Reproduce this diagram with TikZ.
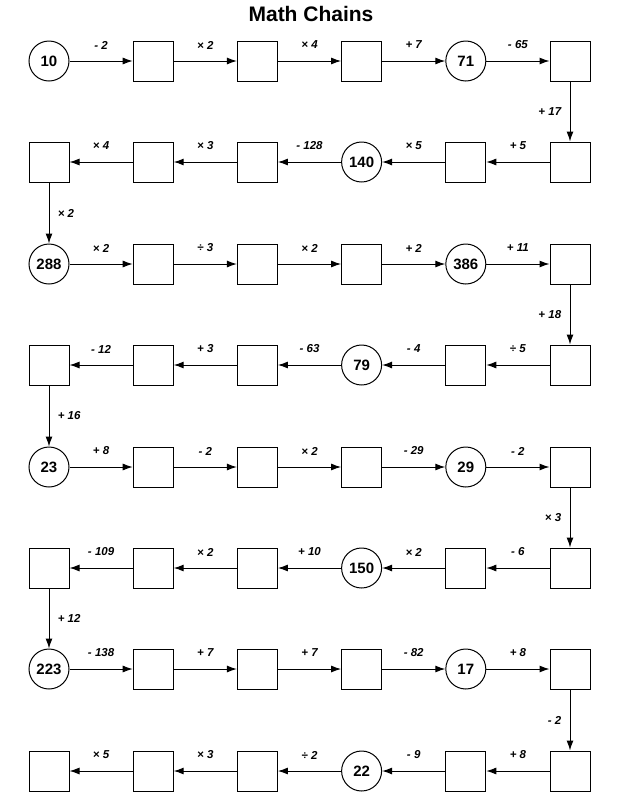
\documentclass[tikz,border=0pt]{standalone}
\usepackage{fontspec}
\setmainfont{Liberation Sans}
\usetikzlibrary{arrows.meta}

\tikzset{every picture/.style={line width=1pt},
  cell/.style={draw,minimum size=40pt,inner sep=0pt},
  ring/.style={draw,circle,minimum size=40pt,inner sep=0pt,font=\fontsize{15}{17}\selectfont\bfseries},
  link/.style={-{Latex[length=10pt,width=7pt]}},
  op/.style={font=\fontsize{11.5}{13}\selectfont\bfseries\itshape}}

\begin{document}
\begin{tikzpicture}[x=1pt,y=-1pt]
\useasboundingbox (0,0) rectangle (622,812);
\def\bx{b}

% title
\node[font=\fontsize{21}{25}\selectfont\bfseries] (title) at (311,14) {Math Chains};

% rows of cells
\foreach \r/\y/\items/\ops in {
  1/61/{10,b,b,b,71,b}/{- 2,× 2,× 4,+ 7,- 65},
  2/162/{b,b,b,140,b,b}/{× 4,× 3,- 128,× 5,+ 5},
  3/264/{288,b,b,b,386,b}/{× 2,÷ 3,× 2,+ 2,+ 11},
  4/365/{b,b,b,79,b,b}/{- 12,+ 3,- 63,- 4,÷ 5},
  5/467/{23,b,b,b,29,b}/{+ 8,- 2,× 2,- 29,- 2},
  6/568/{b,b,b,150,b,b}/{- 109,× 2,+ 10,× 2,- 6},
  7/669/{223,b,b,b,17,b}/{- 138,+ 7,+ 7,- 82,+ 8},
  8/771/{b,b,b,22,b,b}/{× 5,× 3,÷ 2,- 9,+ 8}}{
  \foreach \t [count=\c] in \items {
    \edef\tmp{\t}
    \ifx\tmp\bx
      \node[cell] (n\r-\c) at ({49+104.2*(\c-1)},\y) {};
    \else
      \node[ring] (n\r-\c) at ({49+104.2*(\c-1)},\y) {\t};
    \fi
  }
  \foreach \o [count=\c] in \ops {
    \pgfmathtruncatemacro\d{\c+1}
    \ifodd\r
      \draw[link] (n\r-\c) -- (n\r-\d) node[op,midway,yshift=16pt] {\o};
    \else
      \draw[link] (n\r-\d) -- (n\r-\c) node[op,midway,yshift=16pt] {\o};
    \fi
  }
}

% links between rows
\foreach \r/\s/\o in {1/2/+ 17,3/4/+ 18,5/6/× 3,7/8/- 2}
  \draw[link] (n\r-6) -- (n\s-6) node[op,midway,anchor=east,xshift=-5pt] {\o};
\foreach \r/\s/\o in {2/3/× 2,4/5/+ 16,6/7/+ 12}
  \draw[link] (n\r-1) -- (n\s-1) node[op,midway,anchor=west,xshift=5pt] {\o};

\end{tikzpicture}
\end{document}
